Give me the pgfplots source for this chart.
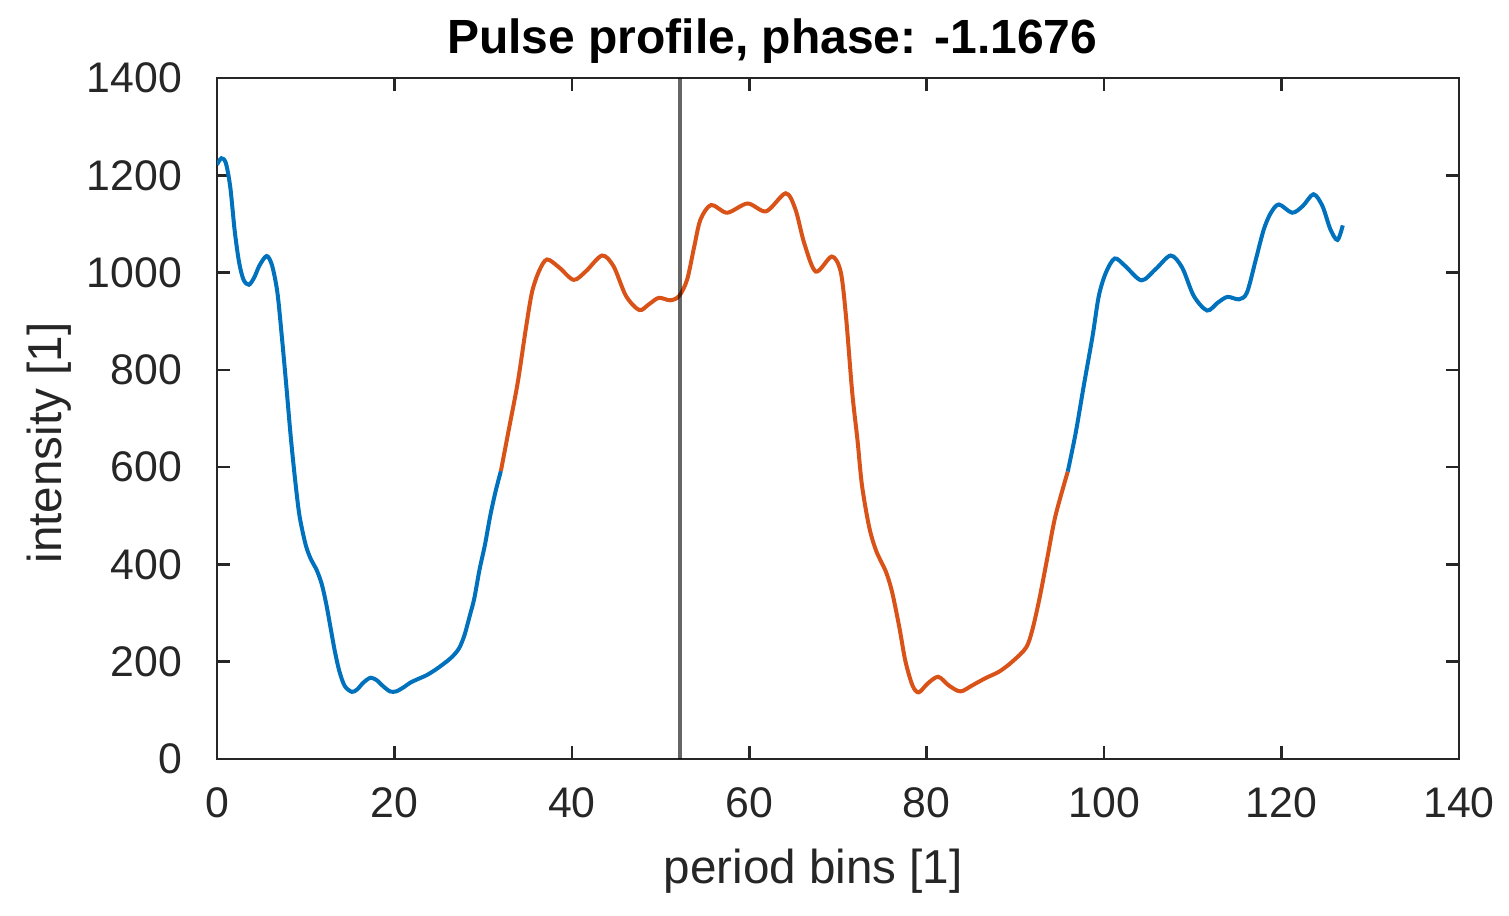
\documentclass[border=0pt]{standalone}
\usepackage{fontspec}
\setmainfont{Liberation Sans}
\usepackage{pgfplots}
\pgfplotsset{compat=1.18}
\definecolor{mblue}{rgb}{0,0.447,0.741}
\definecolor{morange}{rgb}{0.85,0.325,0.098}
\definecolor{axgray}{RGB}{38,38,38}
\begin{document}
\begin{tikzpicture}
\path[use as bounding box] (-54.25bp,-39.25bp) rectangle (323bp,189.75bp);
\begin{axis}[
  scale only axis, width=310.5bp, height=170.25bp,
  xmin=0, xmax=140, ymin=0, ymax=1400,
  xtick={0,20,...,140}, ytick={0,200,...,1400},
  tick align=inside, major tick length=3.25bp,
  axis line style={axgray, line width=0.67bp},
  every tick/.style={axgray, line width=0.67bp},
  /pgf/number format/assume math mode=true,
  /pgf/number format/set thousands separator={},
  ticklabel style={font=\fontsize{10.7bp}{12bp}\selectfont, text=axgray},
  xticklabel style={anchor=north, inner sep=0pt, yshift=-7bp},
  yticklabel style={anchor=east, inner sep=0pt, xshift=-8.5bp},
  every axis title shift=0pt,
  title={Pulse profile, phase: -1.1676},
  title style={font=\fontsize{12bp}{14bp}\selectfont\bfseries, text=black,
    at={(axis description cs:0.447,1.0367)}, anchor=base, inner sep=0pt},
  xlabel={period bins [1]},
  xlabel style={font=\fontsize{11.9bp}{14bp}\selectfont, text=axgray,
    at={(axis description cs:0.48,-0.1821)}, anchor=base, inner sep=0pt},
  ylabel={intensity [1]},
  ylabel style={font=\fontsize{11.9bp}{14bp}\selectfont, text=axgray,
    at={(axis description cs:-0.1248,0.464)}, anchor=base, inner sep=0pt},
]
\addplot[mblue, line width=1bp, smooth, tension=0.5] coordinates {
(0,1222) (0.5,1235) (1,1225) (1.5,1175) (2,1085) (2.5,1020) (3,985) (3.6,975)
(4.2,990) (4.8,1015) (5.6,1034) (6.2,1015) (6.8,960) (7.3,870) (7.8,770)
(8.3,665) (8.8,575) (9.3,500) (10,440) (10.6,410) (11.2,390) (11.8,360)
(12.3,320) (12.8,270) (13.3,220) (13.8,180) (14.4,150) (15.2,138) (15.8,143)
(16.5,157) (17.3,167) (18,162) (18.7,150) (19.5,139) (20.2,139) (21,147)
(21.8,157) (22.6,164) (23.6,172) (24.5,182) (25.5,195) (26.5,210) (27.3,228)
(27.9,255) (28.5,295) (29,330) (29.6,390) (30.2,440) (30.8,500) (31.4,550) (32,592)
};
\addplot[morange, line width=1bp, smooth, tension=0.5] coordinates {
(32,592) (32.9,678) (33.9,774) (34.8,883) (35.5,959) (36.3,1003) (37.2,1027)
(38.6,1010) (40.2,985) (41.6,1003) (43.4,1035) (44.7,1013) (46.1,952) (47.6,923)
(48.7,935) (49.8,948) (51.1,943) (52.1,952) (53.0,986) (53.8,1054) (54.5,1109)
(55.7,1139) (57.5,1123) (59.8,1142) (61.9,1126) (64.1,1163) (65.2,1130)
(66.2,1060) (67.5,1002) (69.3,1033) (70.3,1002) (70.9,910) (71.6,754) (72.2,655)
(72.7,563) (73.5,478) (74.3,428) (75.4,385) (76.1,343) (76.9,272) (77.6,201)
(78.4,151) (79.1,137) (80.1,155) (81.3,169) (82.5,151) (83.8,139) (85.1,151)
(86.6,166) (88.2,180) (89.7,201) (91.2,229) (91.9,265) (92.7,329) (93.6,414)
(94.5,499) (95.9,591)
};
\addplot[mblue, line width=1bp, smooth, tension=0.5] coordinates {
(95.9,591) (96.8,671) (97.7,767) (98.7,870) (99.4,952) (100.2,1000) (101.2,1029)
(102.4,1013) (104.2,984) (105.8,1007) (107.5,1035) (108.8,1010) (110.1,952)
(111.6,922) (112.8,938) (113.9,950) (115.2,945) (116.1,959) (117.1,1027)
(118,1089) (118.8,1123) (119.7,1140) (121.2,1123) (122.4,1137) (123.6,1161)
(124.6,1137) (125.5,1089) (126.3,1067) (126.9,1097)
};
\addplot[black, opacity=0.6, line width=0.8bp] coordinates {(52.2,0) (52.2,1400)};
\end{axis}
\end{tikzpicture}
\end{document}
